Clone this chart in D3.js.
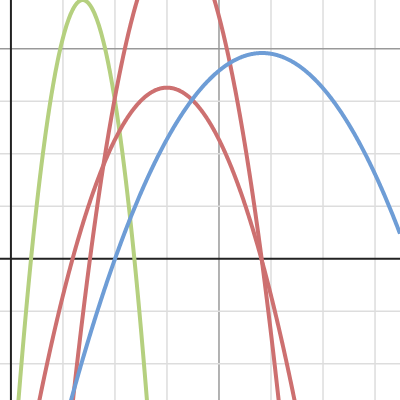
<!DOCTYPE html>
<html>
<head>
<meta charset="utf-8">
<script src="https://cdn.jsdelivr.net/npm/d3@7"></script>
<style>body{margin:0;background:#fff}</style>
</head>
<body>
<svg id="chart" width="400" height="400"></svg>
<script>
// parabolas y = a*(x-h)^2 + k
const curveNames = ["green", "redNarrow", "redWide", "blue"];
const curveA = [-5.0, -2.27, -0.99, -0.49];
const curveH = [1.38, 3.17, 3.0, 4.83];
const curveK = [4.93, 6.18, 3.26, 3.92];
const curveColors = ["#b5d07f", "#cd7070", "#cd7070", "#6e9dd6"];

const xDomain = [-0.21, 7.48];
const yDomain = [-2.69, 4.93];

const width = 400, height = 400;
const svg = d3.select("#chart");

const x = d3.scaleLinear().domain(xDomain).range([0, width]);
const y = d3.scaleLinear().domain(yDomain).range([height, 0]);

// grid
const xTicks = d3.range(Math.ceil(xDomain[0]), Math.floor(xDomain[1]) + 1);
const yTicks = d3.range(Math.ceil(yDomain[0]), Math.floor(yDomain[1]) + 1);

svg.append("g").selectAll("line")
  .data(xTicks.filter(d => d !== 0))
  .enter().append("line")
  .attr("x1", d => x(d)).attr("x2", d => x(d))
  .attr("y1", 0).attr("y2", height)
  .attr("stroke", d => d % 4 === 0 ? "#999" : "#ddd")
  .attr("stroke-width", 1.5);

svg.append("g").selectAll("line")
  .data(yTicks.filter(d => d !== 0))
  .enter().append("line")
  .attr("y1", d => y(d)).attr("y2", d => y(d))
  .attr("x1", 0).attr("x2", width)
  .attr("stroke", d => d % 4 === 0 ? "#999" : "#ddd")
  .attr("stroke-width", 1.5);

// axes
svg.append("line")
  .attr("x1", x(0)).attr("x2", x(0)).attr("y1", 0).attr("y2", height)
  .attr("stroke", "#222").attr("stroke-width", 2);
svg.append("line")
  .attr("y1", y(0)).attr("y2", y(0)).attr("x1", 0).attr("x2", width)
  .attr("stroke", "#222").attr("stroke-width", 2);

const line = d3.line().x(d => x(d[0])).y(d => y(d[1]));
const xs = d3.range(xDomain[0], xDomain[1] + 0.01, 0.01);

curveNames.forEach((name, i) => {
  const pts = xs.map(v => [v, curveA[i] * (v - curveH[i]) ** 2 + curveK[i]]);
  svg.append("path")
    .datum(pts)
    .attr("fill", "none")
    .attr("stroke", curveColors[i])
    .attr("stroke-width", 4)
    .attr("d", line);
});
</script>
</body>
</html>
